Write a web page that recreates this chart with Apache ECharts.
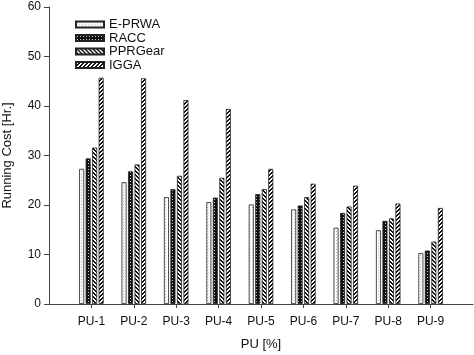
<!DOCTYPE html>
<html><head><meta charset="utf-8">
<script src="https://cdn.jsdelivr.net/npm/echarts@6/dist/echarts.min.js"></script>
<style>html,body{margin:0;padding:0;background:#fff}#c{width:474px;height:355px}</style>
</head><body><div id="c"></div>
<script>
const categories = ['PU-1','PU-2','PU-3','PU-4','PU-5','PU-6','PU-7','PU-8','PU-9'];
const seriesNames = ['E-PRWA','RACC','PPRGear','IGGA'];
const eprwa   = [27.3, 24.6, 21.6, 20.6, 20.1, 19.1, 15.4, 14.9, 10.3];
const racc    = [29.4, 26.8, 23.2, 21.5, 22.2, 19.9, 18.4, 16.8, 10.8];
const pprgear = [31.6, 28.2, 25.9, 25.5, 23.2, 21.6, 19.7, 17.3, 12.6];
const igga    = [45.7, 45.6, 41.2, 39.4, 27.3, 24.3, 23.9, 20.3, 19.4];
const yTicks = [0,10,20,30,40,50,60];

function pat(size, draw){
  const c = document.createElement('canvas'); c.width = size; c.height = size;
  const g = c.getContext('2d'); draw(g, size); return {image: c, repeat: 'repeat'};
}
const pDots = pat(3, (g,s)=>{g.fillStyle='#fff';g.fillRect(0,0,s,s);g.fillStyle='#bbb';g.fillRect(0,0,1,1);g.fillStyle='#e0e0e0';g.fillRect(1,2,1,1);});
const pCheck = pat(3, (g,s)=>{g.fillStyle='#111';g.fillRect(0,0,s,s);g.fillStyle='#ccc';g.fillRect(1,1,1,1);});
const pBack = pat(4, (g,s)=>{g.fillStyle='#fff';g.fillRect(0,0,s,s);g.fillStyle='#111';for(let i=0;i<s;i++){g.fillRect(i,i,1,1);g.fillRect((i+1)%s,i,1,1);}});
const pFwd = pat(4, (g,s)=>{g.fillStyle='#fff';g.fillRect(0,0,s,s);g.fillStyle='#111';for(let i=0;i<s;i++){g.fillRect(s-1-i,i,1,1);g.fillRect((s-i)%s,i,1,1);}});
const patterns = [pDots, pCheck, pBack, pFwd];
const values = [eprwa, racc, pprgear, igga];

const catPos = categories.map((c, i) => i + 1);
const font = 'Liberation Sans, Arial, sans-serif';
const chart = echarts.init(document.getElementById('c'));
chart.setOption({
  animation: false,
  backgroundColor: '#fff',
  grid: {left: 49, right: 1, top: 7, bottom: 51, outerBoundsMode: 'none', containLabel: false},
  legend: {
    orient: 'vertical', left: 70, top: 13, itemWidth: 28, itemHeight: 6, itemGap: 0.5,
    icon: 'rect',
    textStyle: {fontFamily: font, fontSize: 13, color: '#111', lineHeight: 12},
    data: seriesNames
  },
  xAxis: {
    type: 'value', min: 0, max: categories.length + 1, interval: 1,
    name: 'PU [%]', nameLocation: 'middle', nameGap: 34,
    nameTextStyle: {fontFamily: font, fontSize: 13, color: '#111'},
    axisLine: {show: true, onZero: false, lineStyle: {color: '#444', width: 1}},
    axisTick: {show: true, customValues: catPos, length: 4, lineStyle: {color: '#444'}},
    axisLabel: {customValues: catPos, fontFamily: font, fontSize: 12, color: '#111', margin: 12,
      formatter: v => categories[v - 1] || ''},
    splitLine: {show: false}
  },
  yAxis: {
    type: 'value', min: 0, max: 60, interval: 10,
    name: 'Running Cost [Hr.]', nameLocation: 'middle', nameGap: 35, nameRotate: 90,
    nameTextStyle: {fontFamily: font, fontSize: 13, color: '#111'},
    axisLine: {show: true, lineStyle: {color: '#444', width: 1}},
    axisTick: {show: true, length: 5, lineStyle: {color: '#444'}},
    axisLabel: {fontFamily: font, fontSize: 12, color: '#111', margin: 8,
      formatter: v => yTicks.includes(v) ? String(v) : ''},
    splitLine: {show: false}
  },
  series: seriesNames.map((n, k) => ({
    name: n, type: 'bar', barWidth: 5, barGap: '30%',
    data: catPos.map((x, i) => [x, values[k][i]]),
    itemStyle: {color: patterns[k], borderColor: '#222', borderWidth: 0.8}
  }))
});
</script></body></html>
